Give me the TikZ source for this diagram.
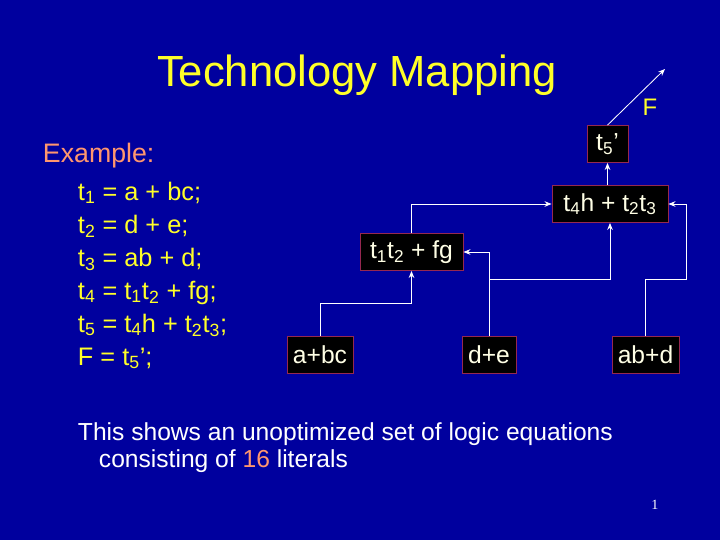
\documentclass[tikz,border=0pt]{standalone}
\usepackage{fontspec}
\setmainfont{Liberation Sans}
\newfontfamily\pagefont{Liberation Serif}
\usetikzlibrary{arrows.meta}
\definecolor{slideblue}{RGB}{0,0,158}
\definecolor{titleyellow}{RGB}{255,255,40}
\definecolor{salmon}{RGB}{255,150,110}
\definecolor{boxborder}{RGB}{150,40,80}
\definecolor{boxtext}{RGB}{255,255,230}
\newcommand{\tsub}[1]{\textsubscript{#1}}
\begin{document}
\begin{tikzpicture}[x=0.025cm,y=-0.025cm,
    gate node/.style={rectangle,draw=boxborder,fill=black,line width=0.6pt,text=boxtext,
        minimum height=0.925cm,inner sep=1pt,font=\fontsize{17.5}{19}\selectfont},
    eq node/.style={anchor=base west,text=titleyellow,font=\fontsize{18}{20}\selectfont},
    wire/.style={draw=white,line width=0.6pt,-{Stealth[length=5pt,width=4pt]}}]
    \fill[slideblue] (0,0) rectangle (720,540);

    \node[text=titleyellow,anchor=base,font=\fontsize{31}{34}\selectfont] at (357,86) (title) {Technology Mapping};

    \node[anchor=base west,text=salmon,font=\fontsize{19}{22}\selectfont] at (38,162) (example) {Example:};
    \node[eq node] at (73,200) (eq1) {t\tsub{1} = a + bc;};
    \node[eq node] at (73,233) (eq2) {t\tsub{2} = d + e;};
    \node[eq node] at (73,266) (eq3) {t\tsub{3} = ab + d;};
    \node[eq node] at (73,299) (eq4) {t\tsub{4} = t\tsub{1}t\tsub{2} + fg;};
    \node[eq node] at (73,332) (eq5) {t\tsub{5} = t\tsub{4}h + t\tsub{2}t\tsub{3};};
    \node[eq node] at (73,365) (eq6) {F = t\tsub{5}’;};

    \node[anchor=base west,text=white,font=\fontsize{17.5}{20}\selectfont] at (73,440) (note1) {This shows an unoptimized set of logic equations};
    \node[anchor=base west,text=white,font=\fontsize{17.5}{20}\selectfont] at (94,467) (note2) {consisting of \textcolor{salmon}{16} literals};
    \node[text=white,font=\pagefont\fontsize{10}{11}\selectfont] at (655,505) (page) {1};

    \node[gate node,minimum width=1.025cm] at (607.5,144) (t5) {t\tsub{5}’};
    \node[gate node,minimum width=2.9cm] at (610,204) (t4) {t\tsub{4}h + t\tsub{2}t\tsub{3}};
    \node[gate node,minimum width=2.575cm] at (411.5,252) (t12) {t\tsub{1}t\tsub{2} + fg};
    \node[gate node,minimum width=1.65cm] at (320,354.5) (abc) {a+bc};
    \node[gate node,minimum width=1.35cm] at (489,354.5) (de) {d+e};
    \node[gate node,minimum width=1.675cm] at (645.5,354.5) (abd) {ab+d};

    \coordinate (fout) at (665,69);
    \coordinate (jl) at (411.5,303);
    \coordinate (jm) at (489,279);
    \coordinate (jr) at (686,279);
    \node[text=titleyellow,font=\fontsize{17}{20}\selectfont] at (650,107) (flabel) {F};

    \draw[wire] (t5.north) -- (fout);
    \draw[wire] (t4.north -| t5.south) -- (t5.south);
    \draw[wire] (t12.north) |- (t4.west);
    \draw[wire] (abc.north) |- (jl) -- (t12.south);
    \draw[wire] (de.north) |- (t12.east);
    \draw[wire] (jm) -| (t4.south);
    \draw[wire] (abd.north) |- (jr) |- (t4.east);
\end{tikzpicture}
\end{document}
